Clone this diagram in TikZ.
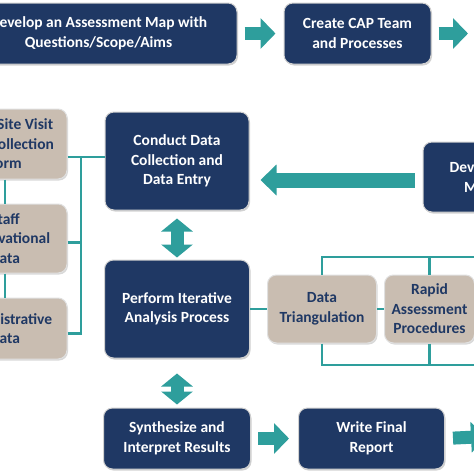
\documentclass[tikz,border=0pt]{standalone}
\usepackage{fontspec}
\setmainfont{Carlito}
\usetikzlibrary{arrows.meta,positioning,calc,shadows}
\definecolor{capnavy}{RGB}{31,56,100}
\definecolor{captan}{RGB}{201,189,177}
\definecolor{capteal}{RGB}{46,158,156}
\tikzset{
  % Base styles
  chart base/.style={
    x=1pt, y=-1pt,
    every node/.style={font=\bfseries\fontsize{15.5}{19.5}\selectfont, align=center, inner sep=0pt},
  },
  % Process boxes
  main box/.style={rectangle, rounded corners=9pt, draw=white!82!black, line width=1pt,
    fill=capnavy, text=white, drop shadow={shadow xshift=1pt, shadow yshift=-1.5pt, opacity=0.35}},
  % Data source boxes
  source box/.style={rectangle, rounded corners=9pt, draw=white!88!black, line width=1pt,
    fill=captan, text=capnavy, drop shadow={shadow xshift=1pt, shadow yshift=-1.5pt, opacity=0.3}},
  % Connectors
  link line/.style={draw=capteal, line width=2.4pt},
  flow arrow/.style={draw=capteal, line width=13pt, -{Triangle[length=15pt,width=30pt]}},
  twin arrow/.style={draw=capteal, line width=13pt,
    {Triangle[length=13pt,width=31pt]}-{Triangle[length=13pt,width=31pt]}},
}

\begin{document}
\begin{tikzpicture}[chart base]
\useasboundingbox (0,0) rectangle (474,474);
\fill[white] (0,0) rectangle (474,474);
\clip (0,0) rectangle (474,474);

% Top row
\node[main box, minimum width=277pt, minimum height=61pt] (map) at (98.5,33.5) {Develop an Assessment Map with\\Questions/Scope/Aims};
\node[main box, minimum width=147pt, minimum height=61pt, right=46pt of map] (team) {Create CAP Team\\and Processes};
\coordinate (team next) at (468,33.5);

% Data sources (left column)
\node[source box, minimum width=124pt, minimum height=70pt] (site) at (5,144) {Initial Site Visit\\Data Collection\\Form};
\node[source box, minimum width=124pt, minimum height=69pt, below=24pt of site] (staff) {Staff\\Observational\\Data};
\node[source box, minimum width=124pt, minimum height=61pt, below=24pt of staff] (admin) {Administrative\\Data};
\coordinate (trunk) at (81,157);

% Main process column
\node[main box, minimum width=144pt, minimum height=98pt] (collect) at (177,161) {Conduct Data\\Collection and\\Data Entry};
\node[main box, minimum width=145pt, minimum height=98pt, below=49pt of collect] (analyse) {Perform Iterative\\Analysis Process};
\node[main box, minimum width=147pt, minimum height=61pt, below=49pt of analyse] (synth) {Synthesize and\\Interpret Results};
\node[main box, minimum width=146pt, minimum height=61pt, right=47pt of synth] (report) {Write Final\\Report};
\coordinate (report next) at (486,436.5);

% Right side
\node[main box, minimum width=140pt, minimum height=70pt] (tools) at (493,177) {Develop Data\\Methods};
\node[source box, minimum width=109pt, minimum height=68pt, right=17pt of analyse] (triang) {Data\\Triangulation};
\node[source box, minimum width=90pt, minimum height=68pt, right=7pt of triang] (rapid) {Rapid\\Assessment\\Procedures};
\coordinate (top rail) at (480,257);
\coordinate (bottom rail) at (480,365);

% Source links
\draw[link line] (site) -- (staff);
\draw[link line] (staff) -- (admin);
\draw[link line] (site.east |- trunk) -- (collect.west |- trunk);
\draw[link line] ([yshift=-4pt]staff.east) -- ([yshift=-4pt]staff.east -| trunk);
\draw[link line] ([yshift=-5pt]admin.east) -| (trunk);

% Analysis links
\draw[link line] (analyse) -- (triang);
\draw[link line] (triang) -- (rapid);
\draw[link line] (triang.north) |- (top rail);
\draw[link line] (rapid.north) -- (rapid.north |- top rail);
\draw[link line] (triang.south) |- (bottom rail);
\draw[link line] (rapid.south) -- (rapid.south |- bottom rail);

% Flow arrows
\draw[flow arrow, shorten <=7pt, shorten >=8pt] (map.east) -- (team.west);
\draw[flow arrow, shorten <=7pt] (team.east) -- (team next);
\draw[flow arrow, line width=15pt, -{Triangle[length=16pt,width=30pt]}, shorten <=8pt, shorten >=11pt] ([yshift=-3pt]tools.west) -- ([yshift=-3pt]tools.west -| collect.east);
\draw[twin arrow, shorten <=8pt, shorten >=2pt] (collect.south) -- (analyse.north);
\draw[twin arrow, shorten <=15pt, shorten >=3pt] (analyse.south) -- (synth.north);
\draw[flow arrow, shorten <=7pt, shorten >=9pt] (synth.east) -- (report.west);
\draw[flow arrow, shorten <=8pt] (report.east) -- (report next);
\end{tikzpicture}
\end{document}
